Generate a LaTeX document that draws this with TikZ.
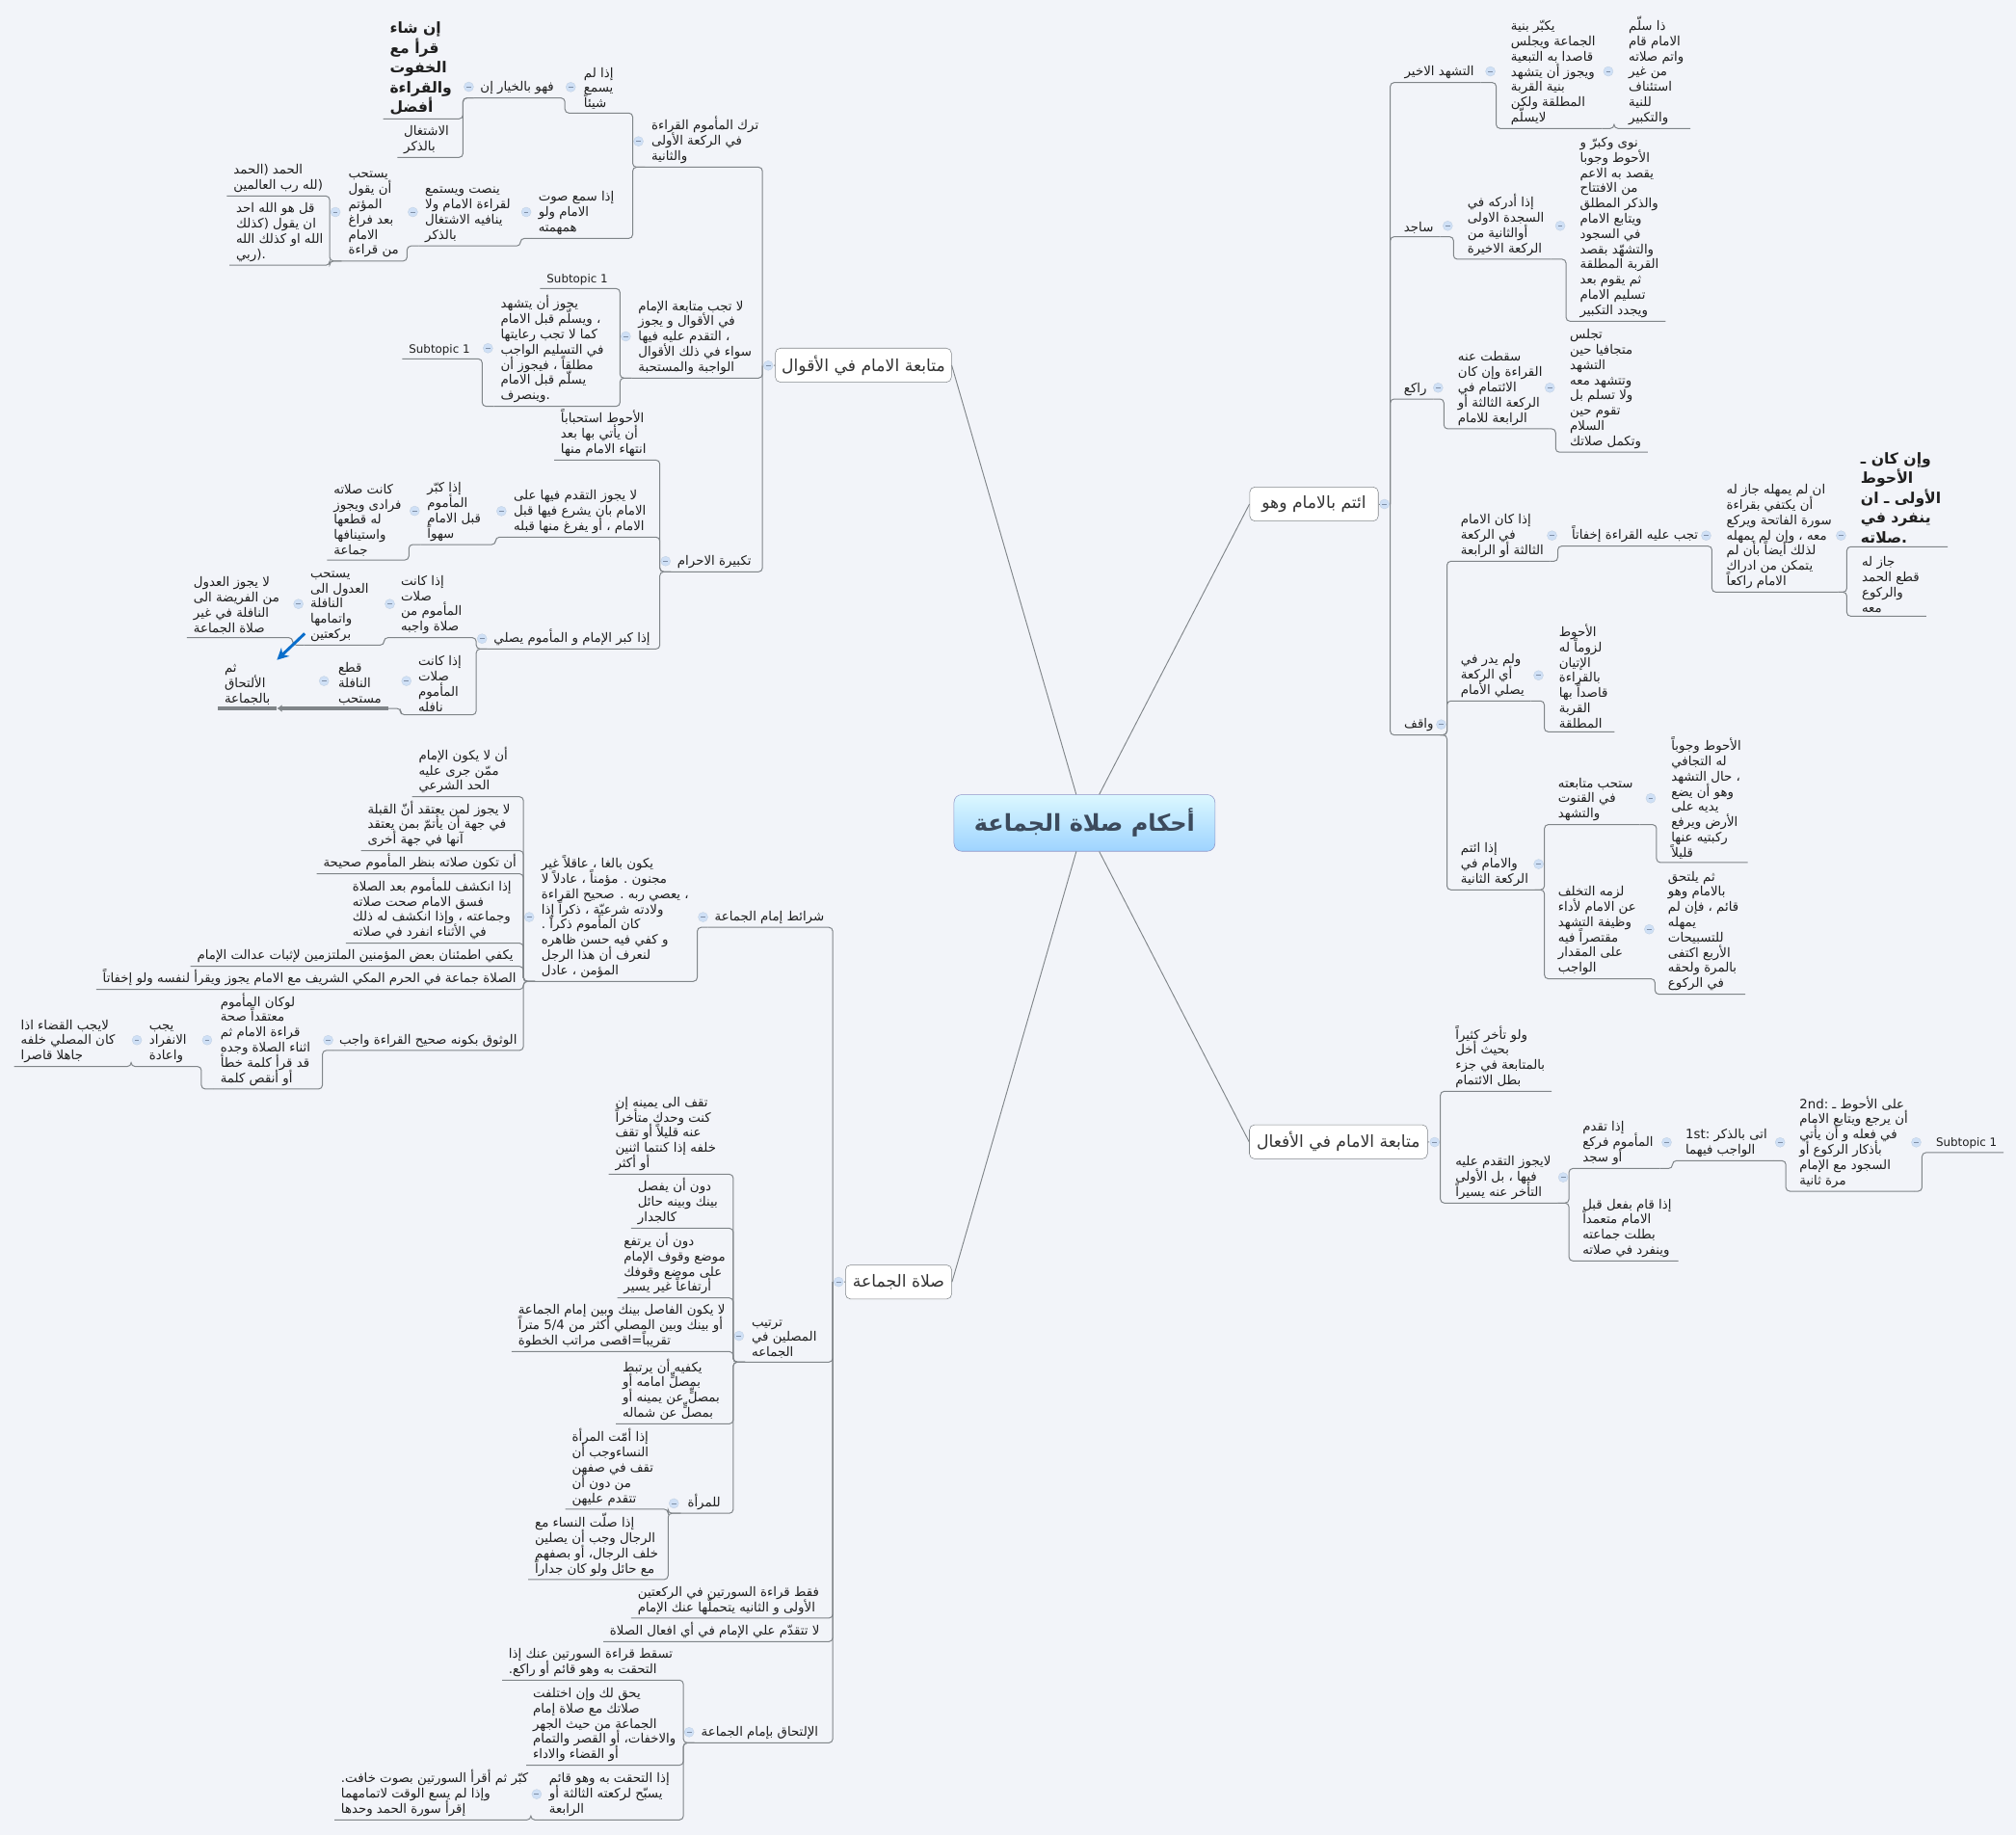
\documentclass[tikz,border=0pt]{standalone}
\usepackage{fontspec}
\setmainfont{DejaVu Sans}
\newfontfamily\arabicfont[Script=Arabic]{DejaVu Sans}
\TeXXeTstate=1
\lineskiplimit=-30pt
\usetikzlibrary{arrows.meta}
\definecolor{paper}{HTML}{F2F4F9}
\definecolor{tiegray}{HTML}{808589}
\definecolor{minusblue}{HTML}{CFE0F6}
\definecolor{minusgray}{HTML}{7F8FA6}
\definecolor{rootink}{HTML}{3C4A5C}
\definecolor{relblue}{HTML}{0A6ECB}
\newcommand{\rtl}[1]{\beginR #1\endR}
\newcommand{\lefttie}[2]{\draw[tie] (#1.south west) -- (#1.south -| #2c.west) -- (#2.south -| #2c.west) -- (#2.south west);}
\newcommand{\righttie}[2]{\draw[tie] (#2.south east) -- (#2.south -| #2c.east) -- (#1.south -| #2c.east) -- (#1.south east);}
\newcommand{\lefttrunk}[2]{\draw[tie] (#1.south west) -- (#1.south -| #2c.west) -- (#2c.west);}
\newcommand{\righttrunk}[2]{\draw[tie] (#1.south east) -- (#1.south -| #2c.east) -- (#2c.east);}
\tikzset{
  topic/.style={anchor=south west, align=left, inner xsep=5pt, inner ysep=2.5pt, text=black!88,
    font=\arabicfont\fontsize{10}{11.85}\selectfont},
  latin/.style={topic, font=\arabicfont\fontsize{8.9}{11.85}\selectfont},
  loud/.style={topic, font=\arabicfont\bfseries\fontsize{11.7}{15.4}\selectfont},
  branch/.style={draw=tiegray, fill=white, rounded corners=4pt, minimum width=137pt, minimum height=26.5pt,
    inner sep=0pt, text=black!80, font=\arabicfont\fontsize{12.9}{16}\selectfont},
  rootbox/.style={draw=black!45!cyan!40!blue!50, top color=blue!20!cyan!14!white, bottom color=blue!45!cyan!38!white,
    rounded corners=6pt, minimum width=203pt, minimum height=44pt, inner sep=0pt, text=rootink,
    font=\arabicfont\bfseries\fontsize{18}{22}\selectfont},
  fold/.style={circle, fill=minusblue, draw=minusblue!85!gray, line width=0.3pt, minimum size=7.5pt, inner sep=0pt,
    outer sep=0.75pt, path picture={\draw[minusgray, line width=0.5pt] ([xshift=-1.8pt]path picture bounding box.center)
    -- ([xshift=1.8pt]path picture bounding box.center);}},
  tie/.style={draw=tiegray, line width=0.75pt, rounded corners=3pt},
  spoke/.style={draw=tiegray, line width=0.7pt},
  heavy/.style={draw=tiegray, line width=2.4pt}
}
\begin{document}
\begin{tikzpicture}[x=1pt,y=-1pt]
  \useasboundingbox[fill=paper] (0,0) rectangle (1568,1427);
  % root and main branches
  \node[rootbox] (root) at (843.5,640) {\rtl{أحكام صلاة الجماعة}};
  \node[branch] (aqwal) at (671.5,284) {\rtl{متابعة الامام في الأقوال}};
  \node[branch, minimum width=82.7pt] (jamaa) at (698.9,997) {\rtl{صلاة الجماعة}};
  \node[branch, minimum width=100pt] (itamma) at (1022,392) {\rtl{ائتم بالامام وهو}};
  \node[branch, minimum width=138.5pt] (afal) at (1041,888) {\rtl{متابعة الامام في الأفعال}};
  \draw[spoke] (aqwal.east) -- (root);
  \draw[spoke] (jamaa.east) -- (root);
  \draw[spoke] (itamma.west) -- (root);
  \draw[spoke] (afal.west) -- (root);
  % upper left
  \node[loud] (inshaa) at (298,92.4) {\rtl{إن شاء}\\\rtl{قرأ مع}\\\rtl{الخفوت}\\\rtl{والقراءة}\\\rtl{أفضل}};
  \node[topic] (ishtighal) at (309,122.4) {\rtl{الاشتغال}\\\rtl{بالذكر}};
  \node[topic] (fahuwa) at (368.4,76.2) {\rtl{فهو بالخيار إن}};
  \node[topic] (lamyasma) at (449,87.9) {\rtl{إذا لم}\\\rtl{يسمع}\\\rtl{شيئاً}};
  \node[topic] (tark) at (501.5,130) {\rtl{ترك المأموم القراءة}\\\rtl{في الركعة الأولى}\\\rtl{والثانية}};
  \node[topic] (samia) at (413.6,185.4) {\rtl{إذا سمع صوت}\\\rtl{الامام ولو}\\\rtl{همهمته}};
  \node[topic] (yunsit) at (325.5,191.3) {\rtl{ينصت ويستمع}\\\rtl{لقراءة الامام ولا}\\\rtl{ينافيه الاشتغال}\\\rtl{بالذكر}};
  \node[topic] (yustahab) at (265.8,203) {\rtl{يستحب}\\\rtl{أن يقول}\\\rtl{المؤتم}\\\rtl{بعد فراغ}\\\rtl{الامام}\\\rtl{من قراءة}};
  \node[topic] (hamd) at (176.5,152.4) {\rtl{الحمد (الحمد}\\\rtl{(لله رب العالمين}};
  \node[topic] (qul) at (178.5,206.3) {\rtl{قل هو الله احد}\\\rtl{ان يقول (كذلك}\\\rtl{الله او كذلك الله}\\\rtl{.(ربي}};
  \node[latin] (subb) at (420.1,224.4) {Subtopic 1};
  \node[latin] (suba) at (312.9,279.1) {Subtopic 1};
  \node[topic] (yajuz) at (384.3,316) {\rtl{يجوز أن يتشهد}\\\rtl{، ويسلّم قبل الامام}\\\rtl{كما لا تجب رعايتها}\\\rtl{في التسليم الواجب}\\\rtl{مطلقاً ، فيجوز أن}\\\rtl{يسلّم قبل الامام}\\\rtl{.وينصرف}};
  \node[topic] (latajib) at (491.3,294) {\rtl{لا تجب متابعة الإمام}\\\rtl{في الأقوال و يجوز}\\\rtl{، التقدم عليه فيها}\\\rtl{سواء في ذلك الأقوال}\\\rtl{الواجبة والمستحبة}};
  \node[topic] (ahwat) at (431,357.8) {\rtl{الأحوط استحباباً}\\\rtl{أن يأتي بها بعد}\\\rtl{انتهاء الامام منها}};
  \node[topic] (layajuz) at (394.3,417.7) {\rtl{لا يجوز التقدم فيها على}\\\rtl{الامام بان يشرع فيها قبل}\\\rtl{الامام ، أو يفرغ منها قبله}};
  \node[topic] (kabbar) at (327.2,423.5) {\rtl{إذا كبّر}\\\rtl{المأموم}\\\rtl{قبل الامام}\\\rtl{سهواً}};
  \node[topic] (furada) at (254.4,435.5) {\rtl{كانت صلاته}\\\rtl{فرادى ويجوز}\\\rtl{له قطعها}\\\rtl{واستينافها}\\\rtl{جماعة}};
  \node[topic] (takbira) at (521.7,444.7) {\rtl{تكبيرة الاحرام}};
  \node[topic] (kabbarimam) at (378.9,504.7) {\rtl{إذا كبر الإمام و المأموم يصلي}};
  \node[topic] (wajiba) at (306.6,495.9) {\rtl{إذا كانت}\\\rtl{صلات}\\\rtl{المأموم من}\\\rtl{صلاة واجبه}};
  \node[topic] (yastahib) at (236.3,501.7) {\rtl{يستحب}\\\rtl{العدول الى}\\\rtl{النافلة}\\\rtl{واتمامها}\\\rtl{بركعتين}};
  \node[topic] (udul) at (145.4,495.9) {\rtl{لا يجوز العدول}\\\rtl{من الفريضة الى}\\\rtl{النافلة في غير}\\\rtl{صلاة الجماعة}};
  \node[topic] (nafila) at (320.1,555.9) {\rtl{إذا كانت}\\\rtl{صلات}\\\rtl{المأموم}\\\rtl{نافله}};
  \node[topic] (qat) at (257.9,550.9) {\rtl{قطع}\\\rtl{النافلة}\\\rtl{مستحب}};
  \node[topic] (thumma) at (169.5,550.9) {\rtl{ثم}\\\rtl{الألتحاق}\\\rtl{بالجماعة}};
  % conditions of the imam
  \node[topic] (hadd) at (320.5,619.6) {\rtl{أن لا يكون الإمام}\\\rtl{ممّن جرى عليه}\\\rtl{الحد الشرعي}};
  \node[topic] (qibla) at (280.8,661.5) {\rtl{لا يجوز لمن يعتقد أنّ القبلة}\\\rtl{في جهة أن يأتمّ بمن يعتقد}\\\rtl{آنها في جهة أخرى}};
  \node[topic] (sahiha) at (246.3,679.5) {\rtl{أن تكون صلاته بنظر المأموم صحيحة}};
  \node[topic] (inkashaf) at (269,733.5) {\rtl{إذا انكشف للمأموم بعد الصلاة}\\\rtl{فسق الامام صحت صلاته}\\\rtl{وجماعته ، وإذا انكشف له ذلك}\\\rtl{في الأثناء انفرد في صلاته}};
  \node[topic] (yakfi) at (148.1,751.5) {\rtl{يكفي اطمئنان بعض المؤمنين الملتزمين لإثبات عدالت الإمام}};
  \node[topic] (haram) at (74.8,769.5) {\rtl{الصلاة جماعة في الحرم المكي الشريف مع الامام يجوز ويقرأ لنفسه ولو إخفاتاً}};
  \node[topic] (wuthuq) at (258.7,816.9) {\rtl{الوثوق بكونه صحيح القراءة واجب}};
  \node[topic] (lawkan) at (166.3,846.9) {\rtl{لوكان المأموم}\\\rtl{معتقداً صحة}\\\rtl{قراءة الامام ثم}\\\rtl{اثناء الصلاة وجده}\\\rtl{قد قرأ كلمة خطأ}\\\rtl{أو أنقص كلمة}};
  \node[topic] (yajib) at (110.9,829.4) {\rtl{يجب}\\\rtl{الانفراد}\\\rtl{واعادة}};
  \node[topic] (qada) at (11,829.4) {\rtl{لايجب القضاء اذا}\\\rtl{كان المصلي خلفه}\\\rtl{جاهلا قاصرا}};
  \node[topic] (yakun) at (416,763.2) {\rtl{يكون بالغا ، عاقلاً غير}\\\rtl{مجنون . مؤمناً ، عادلاً لا}\\\rtl{، يعصي ربه . صحيح القراءة}\\\rtl{ولادته شرعيّة ، ذكراً إذا}\\\rtl{كان  المأموم ذكراً .}\\\rtl{و كفي فيه حسن ظاهره}\\\rtl{لنعرف أن هذا الرجل}\\\rtl{المؤمن ، عادل}};
  \node[topic] (sharait) at (550.7,721.2) {\rtl{شرائط إمام الجماعة}};
  % order of the rows
  \node[topic] (tartib) at (579.5,1059.3) {\rtl{ترتيب}\\\rtl{المصلين في}\\\rtl{الجماعه}};
  \node[topic] (taqif) at (473.4,913.2) {\rtl{تقف الى يمينه إن}\\\rtl{كنت وحدك متأخراً}\\\rtl{عنه قليلاً أو تقف}\\\rtl{خلفه إذا كنتما اثنين}\\\rtl{أو أكثر}};
  \node[topic] (yafsil) at (490.9,955.2) {\rtl{دون أن يفصل}\\\rtl{بينك وبينه حائل}\\\rtl{كالجدار}};
  \node[topic] (yartafi) at (480.1,1009.4) {\rtl{دون أن يرتفع}\\\rtl{موضع وقوف الإمام}\\\rtl{على موضع وقوفك}\\\rtl{أرتفاعاً غير يسير}};
  \node[topic] (fasil) at (397.9,1051.1) {\rtl{لا يكون الفاصل بينك وبين إمام الجماعة}\\\rtl{أو بينك وبين المصلي أكثر من \beginL 5/4\endL{} متراً}\\\rtl{تقريباً=اقصى مراتب الخطوة}};
  \node[topic] (yakfihi) at (479.1,1107.3) {\rtl{يكفيه أن يرتبط}\\\rtl{بمصلٍّ امامه أو}\\\rtl{بمصلٍّ عن يمينه أو}\\\rtl{بمصلٍّ عن شماله}};
  \node[topic] (marah) at (529.6,1176.9) {\rtl{للمرأة}};
  \node[topic] (ammat) at (439.7,1173.7) {\rtl{إذا أمّت المرأة}\\\rtl{النساءوجب أن}\\\rtl{تقف في صفهن}\\\rtl{من دون أن}\\\rtl{تتقدم عليهن}};
  \node[topic] (sallat) at (410.9,1228.4) {\rtl{إذا صلّت النساء مع}\\\rtl{الرجال وجب أن يصلين}\\\rtl{خلف الرجال، أو بصفهم}\\\rtl{مع حائل ولو كان جداراً}};
  \node[topic] (faqat) at (490.9,1258.4) {\rtl{فقط قراءة السورتين في الركعتين}\\\rtl{الأولى و الثانيه يتحملّها عنك الإمام}};
  \node[topic] (lataqaddam) at (469.2,1276.7) {\rtl{لا تتقدّم علي الإمام في أي افعال الصلاة}};
  \node[topic] (iltihaq) at (540.2,1355.4) {\rtl{الإلتحاق بإمام الجماعة}};
  \node[topic] (tasqut) at (390.5,1306.6) {\rtl{تسقط قراءة السورتين عنك إذا}\\\rtl{التحقت به وهو قائم أو راكع.}};
  \node[topic] (yahiqq) at (409.3,1372.8) {\rtl{يحق لك وإن اختلفت}\\\rtl{صلاتك مع صلاة إمام}\\\rtl{الجماعة من حيث الجهر}\\\rtl{والاخفات، أو القصر والتمام}\\\rtl{أو القضاء والاداء}};
  \node[topic] (iltahaqta) at (422,1415.3) {\rtl{إذا التحقت به وهو قائم}\\\rtl{يسبّح لركعته الثالثة أو}\\\rtl{الرابعة}};
  \node[topic] (kabbir) at (260.1,1415.3) {\rtl{كبّر ثم أقرأ السورتين بصوت خافت.}\\\rtl{وإذا لم يسع الوقت لاتمامهما}\\\rtl{إقرأ سورة الحمد وحدها}};
  % upper right
  \node[topic] (tashahhud) at (1087.3,64.2) {\rtl{التشهد الاخير}};
  \node[topic] (yukabbir) at (1170,99.9) {\rtl{يكبّر بنية}\\\rtl{الجماعة ويجلس}\\\rtl{قاصدا به التبعية}\\\rtl{ويجوز أن يتشهد}\\\rtl{بنية القربة}\\\rtl{المطلقة ولكن}\\\rtl{لايسلّم}};
  \node[topic] (sallama) at (1261.6,99.9) {\rtl{ذا سلّم}\\\rtl{الامام قام}\\\rtl{واتم صلاته}\\\rtl{من غير}\\\rtl{استئناف}\\\rtl{للنية}\\\rtl{والتكبير}};
  \node[topic] (sajid) at (1086.8,184.1) {\rtl{ساجد}};
  \node[topic] (adrakahu) at (1136.2,201.6) {\rtl{إذا أدركه في}\\\rtl{السجدة الاولى}\\\rtl{أوالثانية من}\\\rtl{الركعة الاخيرة}};
  \node[topic] (nawa) at (1223.7,249.8) {\rtl{نوى وكبرّ و}\\\rtl{الأحوط وجوبا}\\\rtl{يقصد به الاعم}\\\rtl{من الافتتاح}\\\rtl{والذكر المطلق}\\\rtl{ويتابع الامام}\\\rtl{في السجود}\\\rtl{والتشهّد بقصد}\\\rtl{القربة المطلقة}\\\rtl{ثم يقوم بعد}\\\rtl{تسليم الامام}\\\rtl{ويجدد التكبير}};
  \node[topic] (rakia) at (1086.8,310.3) {\rtl{راكع}};
  \node[topic] (saqatat) at (1128.8,333.5) {\rtl{سقطت عنه}\\\rtl{القراءة وإن كان}\\\rtl{الائتمام في}\\\rtl{الركعة الثالثة أو}\\\rtl{الرابعة للامام}};
  \node[topic] (tajlis) at (1215.9,351.7) {\rtl{تجلس}\\\rtl{متجافيا حين}\\\rtl{التشهد}\\\rtl{وتتشهد معه}\\\rtl{ولا تسلم بل}\\\rtl{تقوم حين}\\\rtl{السلام}\\\rtl{وتكمل صلاتك}};
  \node[topic] (waqif) at (1087,571.6) {\rtl{واقف}};
  \node[topic] (kanalimam) at (1131,436.5) {\rtl{إذا كان الامام}\\\rtl{في الركعة}\\\rtl{الثالثة أو الرابعة}};
  \node[topic] (tajibu) at (1217.3,424.7) {\rtl{تجب عليه القراءة إخفاتاً}};
  \node[topic] (lamyumhil) at (1337.7,460.5) {\rtl{ان لم يمهله جاز له}\\\rtl{أن يكتفي بقراءة}\\\rtl{سورة الفاتحة ويركع}\\\rtl{معه ، وإن لم يمهله}\\\rtl{لذلك أيضاً بأن لم}\\\rtl{يتمكن من ادراك}\\\rtl{الامام راكعاً}};
  \node[loud] (wain) at (1442.1,425.2) {\rtl{وإن كان ـ}\\\rtl{الأحوط}\\\rtl{الأولى ـ ان}\\\rtl{ينفرد في}\\\rtl{.صلاته}};
  \node[topic] (jaza) at (1442.9,479.2) {\rtl{جاز له}\\\rtl{قطع الحمد}\\\rtl{والركوع}\\\rtl{معه}};
  \node[topic] (lamyadri) at (1131,545.1) {\rtl{ولم يدر في}\\\rtl{أي الركعة}\\\rtl{يصلي الأمام}};
  \node[topic] (luzuman) at (1207.4,569.1) {\rtl{الأحوط}\\\rtl{لزوماً له}\\\rtl{الإتيان}\\\rtl{بالقراءة}\\\rtl{قاصداً بها}\\\rtl{القربة}\\\rtl{المطلقة}};
  \node[topic] (itammawa) at (1131,692) {\rtl{إذا ائتم}\\\rtl{والامام في}\\\rtl{الركعة الثانية}};
  \node[topic] (tastahibb) at (1206.7,641.3) {\rtl{ستحب متابعته}\\\rtl{في القنوت}\\\rtl{والتشهد}};
  \node[topic] (wujuban) at (1294.7,670.8) {\rtl{الأحوط وجوباً}\\\rtl{له التجافي}\\\rtl{، حال التشهد}\\\rtl{وهو أن يضع}\\\rtl{يديه على}\\\rtl{الأرض ويرفع}\\\rtl{ركبتيه عنها}\\\rtl{قليلاً}};
  \node[topic] (lazimahu) at (1206.7,761.2) {\rtl{لزمه التخلف}\\\rtl{عن الامام لأداء}\\\rtl{وظيفة التشهد}\\\rtl{مقتصراً فيه}\\\rtl{على المقدار}\\\rtl{الواجب}};
  \node[topic] (yaltahiq) at (1292.2,773.2) {\rtl{ثم يلتحق}\\\rtl{بالامام وهو}\\\rtl{قائم ، فإن لم}\\\rtl{يمهله}\\\rtl{للتسبيحات}\\\rtl{الأربع اكتفى}\\\rtl{بالمرة ولحقه}\\\rtl{في الركوع}};
  % lower right
  \node[topic] (taakhkhar) at (1126.8,848.7) {\rtl{ولو تأخر كثيراً}\\\rtl{بحيث أخل}\\\rtl{بالمتابعة في جزء}\\\rtl{بطل الائتمام}};
  \node[topic] (layajuzu) at (1126.8,935.6) {\rtl{لايجوز التقدم عليه}\\\rtl{فيها ، بل الأولى}\\\rtl{التأخر عنه يسيراً}};
  \node[topic] (taqaddama) at (1225.7,908.7) {\rtl{إذا تقدم}\\\rtl{المأموم فركع}\\\rtl{أو سجد}};
  \node[topic] (qama) at (1225.7,980.6) {\rtl{إذا قام بفعل قبل}\\\rtl{الامام متعمداً}\\\rtl{بطلت جماعته}\\\rtl{وينفرد في صلاته}};
  \node[topic] (first) at (1305.8,902.7) {\rtl{اتى بالذكر \beginL 1st:\endL}\\\rtl{الواجب فيهما}};
  \node[topic] (second) at (1394.4,926.4) {\rtl{على الأحوط ـ \beginL 2nd:\endL}\\\rtl{أن يرجع ويتابع الامام}\\\rtl{في فعله و أن يأتي}\\\rtl{بأذكار الركوع أو}\\\rtl{السجود مع الإمام}\\\rtl{مرة ثانية}};
  \node[latin] (subc) at (1500.6,896.4) {Subtopic 1};
  % fold marks
  \node[fold] (aqwalc) at (597.5,284.3) {};
  \node[fold] (jamaac) at (652.2,996.9) {};
  \node[fold] (itammac) at (1076.8,392) {};
  \node[fold] (afalc) at (1115.8,888.2) {};
  \node[fold] (fahuwac) at (364.6,67.5) {};
  \node[fold] (lamyasmac) at (443.9,67.7) {};
  \node[fold] (tarkc) at (496.6,109.9) {};
  \node[fold] (samiac) at (409.3,164.9) {};
  \node[fold] (yunsitc) at (321.1,164.9) {};
  \node[fold] (yustahabc) at (260.9,164.9) {};
  \node[fold] (yajuzc) at (379.5,270.8) {};
  \node[fold] (latajibc) at (486.7,261.6) {};
  \node[fold] (layajuzc) at (390,397.5) {};
  \node[fold] (kabbarc) at (322.5,397.3) {};
  \node[fold] (takbirac) at (517.7,436.4) {};
  \node[fold] (kabbarimamc) at (374.9,496.7) {};
  \node[fold] (wajibac) at (303.2,469.7) {};
  \node[fold] (yastahibc) at (232.1,469.7) {};
  \node[fold] (nafilac) at (316.1,529.6) {};
  \node[fold] (qatc) at (252,529.6) {};
  \node[fold] (sharaitc) at (546.8,713.2) {};
  \node[fold] (yakunc) at (411.6,713.2) {};
  \node[fold] (wuthuqc) at (255.3,808.9) {};
  \node[fold] (lawkanc) at (161.1,808.9) {};
  \node[fold] (yajibc) at (106.5,808.9) {};
  \node[fold] (tartibc) at (574.8,1038.9) {};
  \node[fold] (marahc) at (524.1,1169.2) {};
  \node[fold] (iltihaqc) at (536,1347.1) {};
  \node[fold] (iltahaqtac) at (417.4,1395.3) {};
  \node[fold] (tashahhudc) at (1159.2,55.5) {};
  \node[fold] (yukabbirc) at (1250.9,55.5) {};
  \node[fold] (sajidc) at (1126,175.6) {};
  \node[fold] (adrakahuc) at (1213.5,175.6) {};
  \node[fold] (rakiac) at (1118.5,301.5) {};
  \node[fold] (saqatatc) at (1205.4,301.5) {};
  \node[fold] (waqifc) at (1120.9,563.4) {};
  \node[fold] (kanalimamc) at (1207.1,416.5) {};
  \node[fold] (tajibuc) at (1327,416.5) {};
  \node[fold] (lamyumhilc) at (1431.9,416.5) {};
  \node[fold] (lamyadric) at (1196.6,525.2) {};
  \node[fold] (itammawac) at (1196.7,672) {};
  \node[fold] (tastahibbc) at (1283.9,620.8) {};
  \node[fold] (lazimahuc) at (1282.7,722.7) {};
  \node[fold] (layajuzuc) at (1215.8,915.6) {};
  \node[fold] (taqaddamac) at (1296.3,888.4) {};
  \node[fold] (firstc) at (1384.5,888.4) {};
  \node[fold] (secondc) at (1490.4,888.4) {};
  % links on the left
  \draw[tie] (aqwal.west) -- (aqwalc.east);
  \lefttrunk{tark}{aqwal}
  \lefttrunk{latajib}{aqwal}
  \lefttrunk{takbira}{aqwal}
  \lefttie{inshaa}{fahuwa}
  \lefttie{ishtighal}{fahuwa}
  \lefttie{fahuwa}{lamyasma}
  \lefttie{lamyasma}{tark}
  \lefttie{samia}{tark}
  \lefttie{yunsit}{samia}
  \lefttie{yustahab}{yunsit}
  \lefttie{hamd}{yustahab}
  \lefttie{qul}{yustahab}
  \lefttie{subb}{latajib}
  \lefttie{yajuz}{latajib}
  \lefttie{suba}{yajuz}
  \lefttie{ahwat}{takbira}
  \lefttie{layajuz}{takbira}
  \lefttie{kabbarimam}{takbira}
  \lefttie{kabbar}{layajuz}
  \lefttie{furada}{kabbar}
  \lefttie{wajiba}{kabbarimam}
  \lefttie{nafila}{kabbarimam}
  \lefttie{yastahib}{wajiba}
  \lefttie{udul}{yastahib}
  \draw[tie] (qat.south east) -- (qat.south -| nafilac.west) -- (nafila.south -| nafilac.west) -- (nafila.south west);
  \draw[heavy] (thumma.south west) -- (thumma.south east);
  \draw[heavy, -{Latex[length=4pt,width=6pt]}] (qat.south east) -- (thumma.south east);
  \draw[-{Stealth[length=9pt,width=9pt]}, draw=relblue, fill=relblue, line width=2.2pt] ([xshift=0.7pt,yshift=9pt]yastahib.south west) -- ([yshift=1pt]thumma.north east);
  \draw[tie] (jamaa.west) -- (jamaac.east);
  \lefttrunk{sharait}{jamaa}
  \lefttrunk{tartib}{jamaa}
  \lefttrunk{faqat}{jamaa}
  \lefttrunk{lataqaddam}{jamaa}
  \lefttrunk{iltihaq}{jamaa}
  \lefttie{yakun}{sharait}
  \lefttie{hadd}{yakun}
  \lefttie{qibla}{yakun}
  \lefttie{sahiha}{yakun}
  \lefttie{inkashaf}{yakun}
  \lefttie{yakfi}{yakun}
  \lefttie{haram}{yakun}
  \lefttie{wuthuq}{yakun}
  \lefttie{lawkan}{wuthuq}
  \lefttie{yajib}{lawkan}
  \lefttie{qada}{yajib}
  \lefttie{taqif}{tartib}
  \lefttie{yafsil}{tartib}
  \lefttie{yartafi}{tartib}
  \lefttie{fasil}{tartib}
  \lefttie{yakfihi}{tartib}
  \lefttie{marah}{tartib}
  \lefttie{ammat}{marah}
  \lefttie{sallat}{marah}
  \lefttie{tasqut}{iltihaq}
  \lefttie{yahiqq}{iltihaq}
  \lefttie{iltahaqta}{iltihaq}
  \lefttie{kabbir}{iltahaqta}
  % links on the right
  \draw[tie] (itamma.east) -- (itammac.west);
  \righttrunk{tashahhud}{itamma}
  \righttrunk{sajid}{itamma}
  \righttrunk{rakia}{itamma}
  \righttrunk{waqif}{itamma}
  \righttie{yukabbir}{tashahhud}
  \righttie{sallama}{yukabbir}
  \righttie{adrakahu}{sajid}
  \righttie{nawa}{adrakahu}
  \righttie{saqatat}{rakia}
  \righttie{tajlis}{saqatat}
  \righttie{kanalimam}{waqif}
  \righttie{lamyadri}{waqif}
  \righttie{itammawa}{waqif}
  \righttie{tajibu}{kanalimam}
  \righttie{lamyumhil}{tajibu}
  \righttie{wain}{lamyumhil}
  \righttie{jaza}{lamyumhil}
  \righttie{luzuman}{lamyadri}
  \righttie{tastahibb}{itammawa}
  \righttie{lazimahu}{itammawa}
  \righttie{wujuban}{tastahibb}
  \righttie{yaltahiq}{lazimahu}
  \draw[tie] (afal.east) -- (afalc.west);
  \righttrunk{taakhkhar}{afal}
  \righttrunk{layajuzu}{afal}
  \righttie{taqaddama}{layajuzu}
  \righttie{qama}{layajuzu}
  \righttie{first}{taqaddama}
  \righttie{second}{first}
  \righttie{subc}{second}
\end{tikzpicture}
\end{document}
